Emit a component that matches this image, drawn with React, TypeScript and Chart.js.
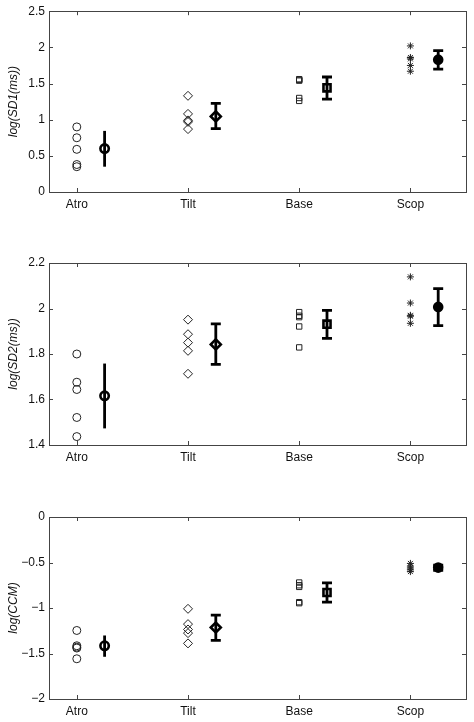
import React, { useEffect, useRef } from "react";
import { Chart, registerables } from "chart.js";

Chart.register(...registerables);

// ---------- data ----------
const categories = ["Atro", "Tilt", "Base", "Scop"];
const xTickValues = [1, 2, 3, 4];

// Panel 1: log(SD1(ms))
const sd1Atro = [0.9, 0.75, 0.59, 0.38, 0.35];
const sd1Tilt = [1.33, 1.08, 0.99, 0.97, 0.87];
const sd1Base = [1.56, 1.55, 1.54, 1.3, 1.26];
const sd1Scop = [2.02, 1.86, 1.84, 1.75, 1.67];
const sd1Mean = [0.6, 1.045, 1.44, 1.83];
const sd1Low = [0.35, 0.875, 1.285, 1.7];
const sd1High = [0.845, 1.225, 1.59, 1.955];
const sd1Ticks = [0, 0.5, 1, 1.5, 2, 2.5];

// Panel 2: log(SD2(ms))
const sd2Atro = [1.8, 1.676, 1.644, 1.521, 1.437];
const sd2Tilt = [1.951, 1.887, 1.85, 1.814, 1.713];
const sd2Base = [1.984, 1.968, 1.962, 1.921, 1.829];
const sd2Scop = [2.139, 2.024, 1.97, 1.966, 1.935];
const sd2Mean = [1.616, 1.842, 1.931, 2.007];
const sd2Low = [1.473, 1.754, 1.869, 1.925];
const sd2High = [1.758, 1.932, 1.992, 2.087];
const sd2Ticks = [1.4, 1.6, 1.8, 2, 2.2];

// Panel 3: log(CCM)
const ccmAtro = [-1.247, -1.415, -1.43, -1.44, -1.558];
const ccmTilt = [-1.009, -1.177, -1.236, -1.276, -1.389];
const ccmBase = [-0.72, -0.75, -0.768, -0.936, -0.947];
const ccmScop = [-0.51, -0.54, -0.56, -0.58, -0.6];
const ccmMean = [-1.415, -1.214, -0.83, -0.556];
const ccmLow = [-1.536, -1.356, -0.936, -0.585];
const ccmHigh = [-1.302, -1.079, -0.724, -0.53];
const ccmTicks = [-2, -1.5, -1, -0.5, 0];

// ---------- styles ----------
const FONT = "'Liberation Sans', Arial, Helvetica, sans-serif";
const TEXT = "#111";
const FRAME = "#444";
const pointStyles = ["circle", "rectRot", "rect", "star"];
const indivRadius = [4, 4.5, 3.8, 3.5];
const meanRadius = [4.2, 5, 5, 4];
const meanFilled = [false, false, false, true];
const capHalf = [0, 5, 5, 5];
const MEAN_OFFSET = 0.25;

const fmt = (v: number) => {
  const n = Number(Number(v).toFixed(3));
  const s = String(Math.abs(n));
  return n < 0 ? "\u2212" + s : s;
};

const framePlugin = {
  id: "frameAndErrors",
  afterDatasetsDraw(chart: any) {
    const { ctx, chartArea, scales } = chart;
    const { left, right, top, bottom } = chartArea;
    const xs = scales.x;
    const ys = scales.y;
    ctx.save();
    // frame
    ctx.strokeStyle = FRAME;
    ctx.lineWidth = 1;
    ctx.strokeRect(Math.round(left) + 0.5, Math.round(top) + 0.5, Math.round(right - left), Math.round(bottom - top));
    // inward ticks
    const tl = 4;
    ctx.beginPath();
    ys.ticks.forEach((t: any) => {
      const y = Math.round(ys.getPixelForValue(t.value)) + 0.5;
      ctx.moveTo(left, y);
      ctx.lineTo(left + tl, y);
      ctx.moveTo(right, y);
      ctx.lineTo(right - tl, y);
    });
    xs.ticks.forEach((t: any) => {
      const x = Math.round(xs.getPixelForValue(t.value)) + 0.5;
      ctx.moveTo(x, bottom);
      ctx.lineTo(x, bottom - tl);
      ctx.moveTo(x, top);
      ctx.lineTo(x, top + tl);
    });
    ctx.stroke();
    // error bars
    const eb = chart.options.plugins.frameAndErrors;
    ctx.strokeStyle = "#000";
    ctx.lineWidth = 2.8;
    ctx.lineCap = "butt";
    eb.low.forEach((lo: number, i: number) => {
      const hi = eb.high[i];
      const x = xs.getPixelForValue(xTickValues[i] + MEAN_OFFSET);
      const y1 = ys.getPixelForValue(lo);
      const y2 = ys.getPixelForValue(hi);
      ctx.beginPath();
      ctx.moveTo(x, y1);
      ctx.lineTo(x, y2);
      const c = capHalf[i];
      if (c > 0) {
        ctx.moveTo(x - c, y1);
        ctx.lineTo(x + c, y1);
        ctx.moveTo(x - c, y2);
        ctx.lineTo(x + c, y2);
      }
      ctx.stroke();
    });
    ctx.restore();
  },
};

type PanelProps = {
  top: number;
  height: number;
  padTop: number;
  xAxisH: number;
  title: string;
  groups: number[][];
  mean: number[];
  low: number[];
  high: number[];
  ticks: number[];
};

function Panel(p: PanelProps) {
  const ref = useRef<HTMLCanvasElement | null>(null);
  useEffect(() => {
    if (!ref.current) return;
    const datasets: any[] = [];
    p.groups.forEach((vals, i) => {
      datasets.push({
        data: vals.map((v) => ({ x: xTickValues[i], y: v })),
        pointStyle: pointStyles[i],
        pointRadius: indivRadius[i],
        pointBorderWidth: 1,
        pointBorderColor: "#222",
        pointBackgroundColor: "rgba(0,0,0,0)",
        showLine: false,
      });
    });
    datasets.push({
      data: p.mean.map((v, i) => ({ x: xTickValues[i] + MEAN_OFFSET, y: v })),
      pointStyle: pointStyles.map((s, i) => (meanFilled[i] ? "circle" : s)),
      pointRadius: meanRadius,
      pointBorderWidth: 2.6,
      pointBorderColor: "#000",
      pointBackgroundColor: meanFilled.map((f) => (f ? "#000" : "rgba(0,0,0,0)")),
      showLine: false,
    });
    const chart = new Chart(ref.current, {
      type: "scatter",
      data: { datasets },
      plugins: [framePlugin],
      options: {
        animation: false,
        responsive: false,
        events: [],
        layout: { padding: { top: p.padTop, right: 8, left: 0, bottom: 0 } },
        plugins: {
          legend: { display: false },
          tooltip: { enabled: false },
          frameAndErrors: { low: p.low, high: p.high },
        } as any,
        scales: {
          x: {
            type: "linear",
            min: 0.75,
            max: 4.5,
            afterBuildTicks: (s: any) => {
              s.ticks = xTickValues.map((v) => ({ value: v }));
            },
            afterFit: (s: any) => {
              s.height = p.xAxisH;
            },
            ticks: {
              callback: (v: any) => categories[Math.round(Number(v)) - 1] ?? "",
              autoSkip: false,
              maxRotation: 0,
              padding: 5,
              color: TEXT,
              font: { family: FONT, size: 12 },
            },
            grid: { display: false, drawTicks: false },
            border: { display: false },
          },
          y: {
            type: "linear",
            min: p.ticks[0],
            max: p.ticks[p.ticks.length - 1],
            afterBuildTicks: (s: any) => {
              s.ticks = p.ticks.map((v) => ({ value: v }));
            },
            afterFit: (s: any) => {
              s.width = 49;
            },
            ticks: {
              callback: (v: any) => fmt(Number(v)),
              padding: 4,
              color: TEXT,
              font: { family: FONT, size: 12 },
            },
            title: {
              display: true,
              text: p.title,
              color: TEXT,
              font: { family: FONT, size: 12, style: "italic" },
              padding: { top: 6, bottom: 0 },
            },
            grid: { display: false, drawTicks: false },
            border: { display: false },
          },
        },
      } as any,
    });
    return () => chart.destroy();
  }, []);
  return (
    <canvas
      ref={ref}
      width={474}
      height={p.height}
      style={{ position: "absolute", left: 0, top: p.top, width: 474, height: p.height }}
    />
  );
}

export default function App() {
  useEffect(() => {
    document.body.style.margin = "0";
    document.body.style.background = "#fff";
  }, []);
  return (
    <div style={{ position: "absolute", left: 0, top: 0, width: 474, height: 722, background: "#fff" }}>
      <Panel
        top={0}
        height={240}
        padTop={9}
        xAxisH={48}
        title="log(SD1(ms))"
        groups={[sd1Atro, sd1Tilt, sd1Base, sd1Scop]}
        mean={sd1Mean}
        low={sd1Low}
        high={sd1High}
        ticks={sd1Ticks}
      />
      <Panel
        top={240}
        height={240}
        padTop={23}
        xAxisH={35}
        title="log(SD2(ms))"
        groups={[sd2Atro, sd2Tilt, sd2Base, sd2Scop]}
        mean={sd2Mean}
        low={sd2Low}
        high={sd2High}
        ticks={sd2Ticks}
      />
      <Panel
        top={480}
        height={242}
        padTop={37}
        xAxisH={23}
        title="log(CCM)"
        groups={[ccmAtro, ccmTilt, ccmBase, ccmScop]}
        mean={ccmMean}
        low={ccmLow}
        high={ccmHigh}
        ticks={ccmTicks}
      />
    </div>
  );
}
